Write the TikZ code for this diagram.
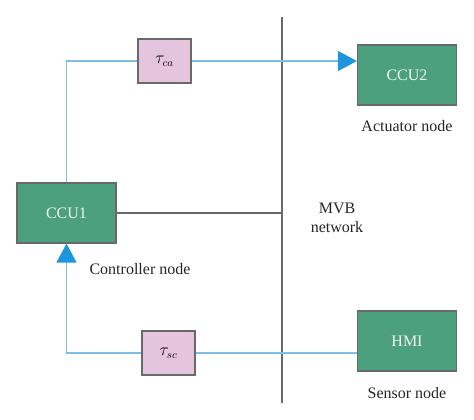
\documentclass[tikz,border=0pt]{standalone}
\usepackage{fontspec}
\setmainfont{Liberation Serif}
\usepackage{xcolor}
\definecolor{ccugreen}{RGB}{76,160,126}
\definecolor{delaypink}{RGB}{229,196,222}
\definecolor{linkblue}{RGB}{125,190,232}
\definecolor{tipblue}{RGB}{30,150,222}
\definecolor{busgray}{RGB}{105,105,105}
\usetikzlibrary{arrows.meta, positioning, calc}

\tikzset{
  unit/.style={draw=busgray, line width=1.2pt, fill=ccugreen, text=white!92!ccugreen,
               minimum width=99pt, minimum height=60pt, inner sep=0pt},
  delay/.style={draw=busgray, line width=1.2pt, fill=delaypink,
                minimum width=53pt, minimum height=44pt, inner sep=0pt},
  link/.style={linkblue, line width=1.4pt},
  wire/.style={busgray, line width=1.1pt},
  tip/.style={-{Triangle[length=19pt,width=20pt,color=tipblue]}},
  caption/.style={text=black!85}
}

\begin{document}
\begin{tikzpicture}[x=1pt, y=-1pt, font=\fontsize{16}{19}\selectfont]
  \useasboundingbox (0,0) rectangle (474,420);
  % MVB bus
  \coordinate (bustop) at (282,17);
  \coordinate (busbot) at (282,403);
  \draw[wire] (bustop) -- (busbot);
  \node[caption, align=center] (mvb) at (337,218) {MVB\\network};
  % Units
  \node[unit] (ccu1) at (66.5,213) {CCU1};
  \node[unit] (ccu2) at (407,75) {CCU2};
  \node[unit] (hmi) at (407,341) {HMI};
  \node[caption] (actlbl) at (407,126) {Actuator node};
  \node[caption] (ctllbl) at (140,269) {Controller node};
  \node[caption] (senlbl) at (407,393) {Sensor node};
  % Delays
  \node[delay] (tca) at (164.5,61) {$\tau_{ca}$};
  \node[delay] (tsc) at (168.5,353) {$\tau_{sc}$};
  % Bus taps
  \draw[wire] (ccu1.east) -- (ccu1.east -| bustop);
  \draw[wire] ($(ccu2.west)+(0,16)$) -- ($(ccu2.west)+(0,16)$ -| bustop);
  \draw[wire] ($(hmi.west)+(0,-13)$) -- ($(hmi.west)+(0,-13)$ -| bustop);
  % Control loop
  \draw[link] (ccu1.north) |- (tca.west);
  \draw[link, tip] (tca.east) -- (tca.east -| ccu2.west);
  \draw[link] (hmi.west |- tsc.east) -- (tsc.east);
  \draw[link, tip] (tsc.west) -| (ccu1.south);
\end{tikzpicture}
\end{document}
